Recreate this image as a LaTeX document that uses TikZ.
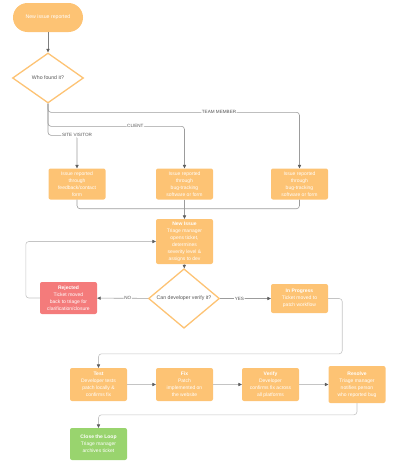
\documentclass[tikz,border=0pt]{standalone}
\usepackage{fontspec}
\setmainfont{Liberation Sans}
\usetikzlibrary{shapes,calc,positioning,arrows.meta}

\definecolor{boxorange}{HTML}{FDC374}
\definecolor{boxred}{HTML}{F47B7B}
\definecolor{boxgreen}{HTML}{99D46E}
\definecolor{linegrey}{HTML}{9C9C9C}
\definecolor{loopgrey}{HTML}{C4C4C4}
\definecolor{tipgrey}{HTML}{5F5F5F}
\definecolor{labelgrey}{HTML}{555555}

\tikzset{
  stepbox/.style={rectangle, rounded corners=2pt, fill=boxorange, text=white,
    align=center, inner sep=2pt, minimum width=57pt, minimum height=31pt,
    font=\fontsize{5}{7}\selectfont},
  decision/.style={diamond, draw=boxorange, line width=1.3pt, fill=white,
    text=labelgrey, inner sep=0pt, minimum width=71pt, minimum height=50pt,
    font=\fontsize{5.2}{7}\selectfont},
  conn/.style={draw=linegrey, line width=0.6pt, rounded corners=3pt},
  arr/.style={conn, -{Triangle[width=3.2pt,length=3.4pt,color=tipgrey,fill=tipgrey]}},
  lbl/.style={fill=white, text=labelgrey, inner sep=0.6pt,
    font=\fontsize{4.6}{5}\selectfont}
}

\begin{document}
\begin{tikzpicture}[x=1pt,y=-1pt]
\useasboundingbox (0,0) rectangle (400,463);

% start and first question
\node[stepbox, rounded corners=14.5pt, minimum width=70pt, minimum height=29pt,
  font=\fontsize{5.2}{7}\selectfont] (start) at (48,17.5) {New issue reported};
\node[decision] (who) at (48,78) {Who found it?};

% reporting channels
\node[stepbox] (visitor) at (77,184) {Issue reported\\through\\feedback/contact\\form};
\node[stepbox] (client) at (184.5,184) {Issue reported\\through\\bug-tracking\\software or form};
\node[stepbox] (member) at (299.5,184) {Issue reported\\through\\bug-tracking\\software or form};

% triage
\node[stepbox, minimum height=45pt] (newissue) at (184.5,241.5)
  {\textbf{New Issue}\\Triage manager\\opens ticket,\\determines\\severity level \&\\assigns to dev};
\node[decision] (verify) at (184,298.5) {Can developer verify it?};
\node[stepbox, fill=boxred, minimum height=32pt] (rejected) at (68.5,298)
  {\textbf{Rejected}\\Ticket moved\\back to triage for\\clarification/closure};
\node[stepbox, minimum height=29pt] (inprog) at (299.5,298.5)
  {\textbf{In Progress}\\Ticket moved to\\patch workflow};

% patch workflow
\node[stepbox, minimum height=33pt] (test) at (98.5,384.5)
  {\textbf{Test}\\Developer tests\\patch locally \&\\confirms fix};
\node[stepbox, minimum height=33pt] (fix) at (184.5,384.5)
  {\textbf{Fix}\\Patch\\implemented on\\the website};
\node[stepbox, minimum height=33pt] (check) at (270.5,384.5)
  {\textbf{Verify}\\Developer\\confirms fix across\\all platforms};
\node[stepbox, minimum height=37pt] (resolve) at (357,384.5)
  {\textbf{Resolve}\\Triage manager\\notifies person\\who reported bug};
\node[stepbox, fill=boxgreen, minimum height=32pt] (close) at (98.5,444)
  {\textbf{Close the Loop}\\Triage manager\\archives ticket};

% connectors
\draw[arr, draw=tipgrey!80] (start) -- (who);

\draw[arr] (who.south) |- ([yshift=56pt]member.north)
  node[lbl, pos=0.84] {TEAM MEMBER} -- (member.north);
\draw[arr] (who.south) |- ([yshift=42pt]client.north)
  node[lbl, pos=0.82] {CLIENT} -- (client.north);
\draw[arr] (who.south) |- ([yshift=33pt]visitor.north)
  node[lbl, pos=1] {SITE VISITOR} -- (visitor.north);

\draw[conn] (visitor.south) |- ([yshift=-9pt]client.south) -| (member.south);
\draw[arr] (client.south) -- (newissue.north);

\draw[arr] (newissue) -- (verify);
\draw[arr] (verify) -- node[lbl, pos=0.4] {NO} (rejected);
\draw[arr] (verify) -- node[lbl, pos=0.38] {YES} (inprog);
\draw[arr, draw=loopgrey] (rejected.west) -- ++(-14,0) |- (newissue.west);

\draw[arr, draw=loopgrey] (inprog.east) -- ++(14,0) |- ([yshift=14pt]test.north) -- (test.north);
\draw[arr, draw=loopgrey] (test) -- (fix);
\draw[arr, draw=loopgrey] (fix) -- (check);
\draw[arr, draw=loopgrey] (check) -- (resolve);
\draw[arr, draw=loopgrey] (resolve.south) |- ([yshift=13pt]close.north) -- (close.north);

\end{tikzpicture}
\end{document}
